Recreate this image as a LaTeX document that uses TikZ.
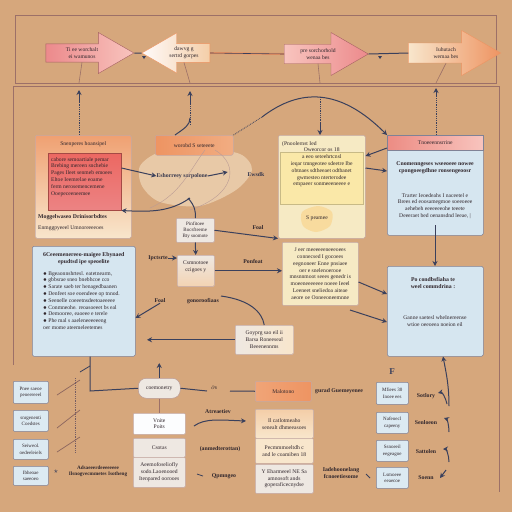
\documentclass[tikz,border=0pt]{standalone}
\usepackage{fontspec}
\setmainfont{Liberation Serif}
\usetikzlibrary{shapes.arrows,arrows.meta,calc}
\definecolor{bgc}{RGB}{214,167,124}
\definecolor{framec}{RGB}{156,112,104}
\definecolor{navy}{RGB}{58,64,92}
\definecolor{ink}{RGB}{48,38,44}
\definecolor{lblue}{RGB}{214,230,240}
\definecolor{bluebd}{RGB}{128,130,150}
\definecolor{pinkA}{RGB}{236,138,140}
\definecolor{pinkB}{RGB}{248,196,190}
\definecolor{orangeA}{RGB}{238,148,98}
\definecolor{creamc}{RGB}{248,230,204}
\definecolor{yellowc}{RGB}{250,232,168}
\definecolor{paley}{RGB}{246,234,196}
\definecolor{redc}{RGB}{236,104,98}
\definecolor{cardc}{RGB}{238,232,226}
\definecolor{peachc}{RGB}{244,206,168}
\begin{document}
\begin{tikzpicture}[x=1pt,y=-1pt,
  t/.style={font=\fontsize{5.6}{6.8}\selectfont, text=ink, inner sep=0pt, align=center},
  tl/.style={t, align=left},
  tb/.style={t, font=\fontsize{5.8}{7}\selectfont\bfseries},
  frame/.style={draw=framec, line width=0.6pt},
  link/.style={draw=navy, line width=1pt, -{Stealth[length=5pt,width=5pt]}},
  wire/.style={draw=navy, line width=1pt},
  dots/.style={draw=navy, line width=0.8pt, densely dotted},
  arr/.style={single arrow, single arrow head extend=7pt, single arrow tip angle=60, inner xsep=2pt, inner ysep=6.5pt,
     draw=pinkA!70!black, line width=0.4pt, t},
  box/.style={anchor=north west, inner sep=0pt, line width=0.5pt},
  bbox/.style={box, fill=lblue, draw=bluebd, rounded corners=1.5pt},
  card/.style={box, fill=cardc, draw=framec!60, rounded corners=1pt},
  sbox/.style={box, fill=lblue!85!white, draw=bluebd, rounded corners=1pt}]
\fill[bgc] (0,0) rectangle (512,512);
\useasboundingbox (0,0) rectangle (512,512);

% frames
\draw[frame] (15,15) rectangle (496,83);
\draw[frame] (13,365) -- (13,86) -- (499,86) -- (499,492);

% top arrows
\node[arr, minimum height=88pt, minimum width=41pt, left color=pinkA, right color=pinkB] (a1) at (82,53) {Ti ee worchalt\\ ei wamunos};
\node[arr, shape border rotate=180, minimum height=68pt, minimum width=40pt, left color=white!92!pinkB, right color=peachc, draw=orangeA] (a2) at (184,53) {dawvg g\\ sertrd gorpes};
\node[arr, minimum height=84pt, minimum width=43pt, left color=pinkB, right color=pinkA] (a3) at (318,54) {pre sorchorhold\\ wenaa bes};
\node[arr, minimum height=92pt, minimum width=45pt, left color=creamc, right color=orangeA, draw=orangeA] (a4) at (446,53) {Iuhutach\\ wemaa bes};
\draw[wire] (a1.east) -- (a2.west);
\draw[draw=orangeA, line width=2pt] (a2.east) -- (a3.west);
\draw[wire, line width=0.6pt] (a2.east) -- (a3.west);
\draw[wire] (a3.east) -- (a4.west);
\fill[navy] (142,56) -- (146,56) -- (144,59) -- cycle;
\fill[navy] (378,56) -- (382,56) -- (380,59) -- cycle;

% main boxes row 1
\node[box, minimum width=96pt, minimum height=103pt, top color=orangeA!85!creamc, bottom color=creamc, draw=framec!60, rounded corners=1.5pt] (A) at (35,135) {};
\node[t, anchor=north] at ($(A.north)+(0,6)$) {Snenperes hoansipel};
\node[box, minimum width=73pt, minimum height=57pt, top color=redc, bottom color=pinkA!80!redc, draw=redc!70!black] (R) at (48,153) {};
\node[tl, anchor=north west] at (51,157) {cabore semoartiale pemar\\ Brebing mereen snchebie\\ Pages Ileet senmeb emoees\\ Eltoe Ieemrelae eoame\\ ferm nerosemencemene\\ Ooepeceeneemee};
\node[tb, anchor=west] at (38,217) {Moggelwaseo Drinisorbdtes};
\node[t, anchor=west] at (38,228) {Enmggpyeeel Umnoreeeeoes};

% cloud
\fill[creamc, opacity=0.55] plot[smooth cycle] coordinates {(140,166) (160,152) (200,148) (240,154) (252,170) (236,190) (200,206) (160,202) (142,186)};
\node[box, minimum width=78pt, minimum height=20pt, left color=orangeA, right color=orangeA!70!creamc, draw=framec!60, rounded corners=2pt] (B) at (155,135) {};
\node[t] at (B.center) {worobd S seteeete};
\node[tb, text=navy!70!ink] (ct) at (182,176) {Eshorreey sarpolone};
\node[tb, text=navy!70!ink] (ew) at (256,175) {Ewsdk};
\draw[draw=framec!70, line width=0.4pt] (205,150) .. controls (190,170) and (180,195) .. (150,208);
\draw[draw=framec!70, line width=0.4pt] (215,150) .. controls (240,165) and (235,195) .. (190,210);
\draw[link] (R.east |- 0,168) -- (ct.west);
\draw[link] (ct.east) -- ++(20,-4);
\draw[link] (190,198) .. controls (170,212) and (150,212) .. (R.south east);

% box C
\node[box, minimum width=87pt, minimum height=103pt, fill=paley, draw=framec!60, rounded corners=1.5pt] (C) at (278,135) {};
\node[box, minimum width=83pt, minimum height=52pt, fill=yellowc, draw=yellowc!80!black] (Ci) at (280,152) {};
\node[t, anchor=west] at (282,144) {(Pnoolernst Ied};
\node[t, anchor=north] at (Ci.north) [yshift=4pt] {Oweorcor os 18\\ a eeo seteehrtcnsl\\ ieqar tmngeotee sdeetre Ibe\\ obtnaes sdtheeaet odtbanet\\ gwmesteo nterterodee\\ empaeer sonmeeeneeee e};
\fill[yellowc!85!orangeA] plot[smooth cycle] coordinates {(302,212) (318,206) (332,212) (330,226) (316,232) (303,226)};
\node[t] at (317,218) {S peamee};

% box D
\node[box, minimum width=96pt, minimum height=100pt, fill=lblue, draw=bluebd, rounded corners=1.5pt] (D) at (387,135) {};
\node[box, minimum width=96pt, minimum height=15pt, left color=pinkA!80!orangeA, right color=pinkB, draw=bluebd] (Dh) at (387,135) {};
\node[t] at (Dh.center) {Tnoeeennsrrine};
\node[tb] at (435,168) {Cnomenngeses wseeoeee nowee\\ cpongoeegdhne ronsengeoosr};
\node[t] at (435,206) {Trarter Ieoedeahs I naceetel e\\ Brees ed eoosamegmoe soeeoeee\\ aehebeh eeeeeeeohe teeete\\ Deeeraet bed oenansdnd leeae, |};

% box E
\node[bbox, minimum width=103pt, minimum height=110pt] (E) at (32,246) {};
\node[tb, anchor=north] at ($(E.north)+(0,6)$) {6Ceeemenereeo-maigee Ebynaed\\ epudtsd ipe speoelite};
\node[tl, anchor=north west] at (43,271) {$\bullet$ Bgeaonnshrtesl. eatetnearm,\\ $\bullet$ gbbsrae sneo bnebhcoe cco\\ $\bullet$ Sarate saeb ter henagedbaanen\\ $\bullet$ Denfeet soe eoendeee op tnnod.\\ $\bullet$ Seenelle coeeetnsdeetoaeeeee\\ $\bullet$ Conmneohe. reoasoeeet bs eal\\ $\bullet$ Demooree, eaoeee e terele\\ $\bullet$ Phe mal s aaeleneeeeeeng\\ oer mome ateemeleetemes};

% small boxes F, G
\node[card, minimum width=38pt, minimum height=24pt] (F) at (176,218) {};
\node[t, font=\fontsize{5}{6.2}\selectfont] at (F.center) {Pinfitoee\\ Bocsfteeme\\ Bty soomote};
\node[card, minimum width=37pt, minimum height=31pt, top color=cardc, bottom color=peachc!80!cardc] (G) at (177,255) {};
\node[t] at ($(G.center)+(0,-4)$) {Csmnotoee\\ ccigoes y};
\draw[wire] (188,198) .. controls (195,206) and (196,212) .. (F.north);
\draw[link] (F.south) -- (G.north);

% box H
\node[box, minimum width=76pt, minimum height=63pt, fill=paley, draw=framec!60, rounded corners=1pt] (H) at (282,242) {};
\node[t] at (H.center) {J eer meeeeeeneeeoees\\ connecsed I gocoees\\ eegnoneer Enne pnsiaee\\ oer e snelenoerooe\\ mnsnnmoot seees genedr is\\ moeeneeeeeee noeee Ieeel\\ Leeneet sneliedoa aiteae\\ aeore oe Ooneeoneemnne};

% box I
\node[bbox, minimum width=96pt, minimum height=90pt] (I) at (387,266) {};
\node[tb] at (433,283) {Po condbsfiaha te\\ weel commdrina :};
\node[t] at (435,321) {Ganne saetesl wheInereense\\ wtioe oeeoeea noeion eil};

% box J
\node[card, minimum width=58pt, minimum height=29pt, left color=cardc, right color=creamc] (J) at (235,325) {};
\node[t] at (J.center) {Goyprg sao eil ii\\ Barsa Roneeseal\\ Beeenennms};

% labels & links middle
\node[tb] (lip) at (158,258) {Ipctsrte};
\node[tb] (lpo) at (253,261) {Ponfoat};
\node[tb] (lfo1) at (258,228) {Foal};
\node[tb] (lfo2) at (160,301) {Foal};
\node[tb] (lgo) at (203,301) {gonoroofiaas};
\draw[link] (lip.east) -- (G.west |- lip);
\draw[link] (F.east) -- (C.south west);
\draw[link] (G.east) -- (H.west |- G.east);
\draw[link] (J.west) -- ++(-88,0);
\draw[wire] (221,296) .. controls (250,300) and (262,312) .. (J.north);
\draw[link] (lfo2.south) -- (E.east |- 0,318);
\draw[link] (H.east |- 0,282) -- (I.west |- 0,294);
\draw[link] (350,310) -- (I.west |- 0,322);
\draw[link] (435,225) -- (I.north -| 435,0);
\draw[link] (D.west |- 0,148) -- (C.east |- 0,156);
\draw[link] (C.east |- 0,168) -- (D.west |- 0,171);

% vertical connectors from top
\draw[frame] (a1.south) -- (79,83);
\draw[frame] (a2.south) -- (190,83);
\draw[frame] (a3.south) -- (320,83);
\draw[frame] (a4.south) -- (436,83);
\draw[dots] (A.north -| 79,0) -- (79,100);
\draw[link] (79,103) -- (79,90);
\draw[dots] (190,125) -- (190,100);
\draw[link] (190,103) -- (190,91);
\draw[wire] (175,135) .. controls (185,128) and (190,125) .. (190,118);
\draw[dots] (D.north -| 436,0) -- (436,92);
\draw[link] (436,96) -- (436,88);
\draw[dots] (B.north east) -- (262,117);
\draw[link] (262,117) .. controls (300,88) and (340,88) .. (D.north west);
\draw[dots] (320,97) -- (320,125);
\draw[link] (320,122) -- (C.north -| 320,0);

% bottom section
\node[box, minimum width=42pt, minimum height=20pt, fill=cardc, draw=framec!70, rounded corners=8pt] (co) at (138,378) {};
\node[t] at (co.center) {coemonetry};
\draw[wire] (E.south -| 90,0) -- (90,391) -- (co.west);
\draw[link] (co.north) -- ++(0,-15);
\draw[wire] (co.east) -- (207,391);
\node[t, font=\fontsize{4.5}{5}\selectfont] at (214,388) {$\partial$6};

% bottom-left boxes
\node[sbox, minimum width=35pt, minimum height=22pt] (L1) at (13,381) {};
\node[t, font=\fontsize{5}{6.2}\selectfont] at (L1.center) {Pnee saeoe\\ peoeereeel};
\node[sbox, minimum width=35pt, minimum height=21pt] (L2) at (13,410) {};
\node[t, font=\fontsize{5}{6.2}\selectfont] at (L2.center) {snrgenenti\\ Coedstes};
\node[sbox, minimum width=35pt, minimum height=20pt] (L3) at (13,439) {};
\node[t, font=\fontsize{5}{6.2}\selectfont] at (L3.center) {Seiweol.\\ oedeeleiels};
\node[sbox, minimum width=35pt, minimum height=19pt] (L4) at (13,466) {};
\node[t, font=\fontsize{5}{6.2}\selectfont] at (L4.center) {Ibheoae\\ saeeoeo};
\draw[draw=framec!90!black, line width=0.7pt] (57,395) -- (80,380) (57,428) -- (80,410) (57,452) -- (80,437);
\draw[dots, draw=framec!60!navy] (75,378) -- (75,452);
\draw[wire, line width=0.8pt] (80,372) -- (90,366);
\node[t, text=navy, font=\fontsize{8}{8}\selectfont] at (56,472) {$\star$};
\node[tb, font=\fontsize{5.2}{6.4}\selectfont\bfseries] at (98,471) {Adsaeeerdeeeeeeee\\ Ilsnogvecmmetes Isotheng};

% center bottom boxes
\node[card, minimum width=52pt, minimum height=21pt, fill=white!92!lblue] (V) at (133,413) {};
\node[t] at (V.center) {Vnite\\ Poits};
\node[card, minimum width=52pt, minimum height=19pt] (Cs) at (133,438) {};
\node[t] at (Cs.center) {Csotas};
\node[card, minimum width=52pt, minimum height=30pt] (Ae) at (133,457) {};
\node[t] at (Ae.center) {Aeemofoseliofly\\ sodo.Laoenooed\\ Itenpared oorooes};
\draw[draw=framec, line width=0.4pt] (co.south) -- (V.north);
\node[tb] (lat) at (218,412) {Atreaetiev};
\draw[link] (194,426) .. controls (205,418) and (220,420) .. (246,421);
\node[tb] at (220,449) {(anmedterottan)};
\node[tb] at (224,476) {Qpmngeo};
\draw[wire, line width=0.8pt] (197,474) -- (203,476);

% middle-right bottom boxes
\node[box, minimum width=56pt, minimum height=20pt, left color=orangeA!80!creamc, right color=orangeA, draw=framec!60, rounded corners=1pt] (M) at (255,381) {};
\node[t] at (M.center) {Malotono};
\draw[wire] (230,391) -- (M.west);
\node[tb, anchor=west] (lgu) at (315,391) {gurad Guemeyenee};
\node[card, minimum width=58pt, minimum height=29pt, top color=peachc, bottom color=creamc] (P1) at (255,409) {};
\node[t] at (P1.center) {Il catlotmeaho\\ senealt dhmeeasoes};
\node[card, minimum width=58pt, minimum height=25pt, fill=creamc] (P2) at (255,438) {};
\node[t] at (P2.center) {Pecmmmoeltdh c\\ and le coamiben 18};
\node[card, minimum width=58pt, minimum height=29pt, fill=cardc] (P3) at (255,464) {};
\node[t] at (P3.center) {Y Eharmeeel NE Sa\\ amnosoft ands\\ goperaficecnydse};
\node[tb] at (341,473) {Iadehoonelang\\ fcnoeetiesome};
\draw[wire, line width=0.8pt] (366,474) -- (370,478);

% right bottom boxes
\node[sbox, minimum width=32pt, minimum height=22pt] (S1) at (376,382) {};
\node[t, font=\fontsize{5}{6.2}\selectfont] at (S1.center) {Mfiees 30\\ Inoee ees};
\node[sbox, minimum width=32pt, minimum height=21pt] (S2) at (376,412) {};
\node[t, font=\fontsize{5}{6.2}\selectfont] at (S2.center) {Nafeoecl\\ capeeny};
\node[sbox, minimum width=32pt, minimum height=21pt] (S3) at (376,440) {};
\node[t, font=\fontsize{5}{6.2}\selectfont] at (S3.center) {Ssnoeeil\\ eegeagoe};
\node[sbox, minimum width=32pt, minimum height=21pt] (S4) at (376,467) {};
\node[t, font=\fontsize{5}{6.2}\selectfont] at (S4.center) {Lsmoeee\\ eeaecoe};
\node[tb] at (426,396) {Sotlory};
\node[tb] at (426,423) {Senloeon};
\node[tb] at (426,452) {Sattolen};
\node[tb] at (426,478) {Soenn};
\node[tb, font=\fontsize{9}{9}\selectfont\bfseries, text=navy] at (392,372) {F};
\draw[link] (449,406) .. controls (449,385) and (446,372) .. (I.south -| 443,0);
\draw[link] (447,404) .. controls (445,396) and (442,392) .. (438,393);
\draw[link] (449,432) .. controls (449,425) and (447,419) .. (444,418);
\draw[link] (449,462) .. controls (449,455) and (446,449) .. (443,449);
\draw[link] (446,470) -- (440,478);
\end{tikzpicture}
\end{document}
